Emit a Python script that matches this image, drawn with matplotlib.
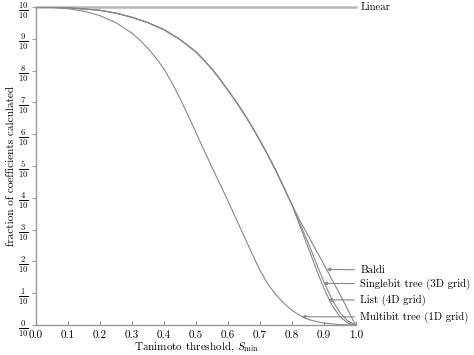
import numpy as np
import matplotlib
matplotlib.use('Agg')
import matplotlib.pyplot as plt

plt.rcParams['font.family'] = 'serif'
plt.rcParams['font.serif'] = ['cmr10', 'DejaVu Serif']
plt.rcParams['mathtext.fontset'] = 'cm'
plt.rcParams['axes.formatter.use_mathtext'] = True

# Data
x_multibit = [0, 0.05, 0.1, 0.15, 0.2, 0.25, 0.3, 0.325, 0.35, 0.375, 0.4, 0.425,
              0.45, 0.475, 0.5, 0.525, 0.55, 0.575, 0.6, 0.625, 0.65, 0.675, 0.7,
              0.725, 0.75, 0.775, 0.8, 0.825, 0.85, 0.875, 0.9, 0.95, 1.0]
y_multibit = [1.0, 0.999, 0.995, 0.987, 0.973, 0.951, 0.918, 0.896, 0.87, 0.84,
              0.805, 0.762, 0.713, 0.66, 0.605, 0.55, 0.496, 0.443, 0.39, 0.335,
              0.28, 0.225, 0.172, 0.128, 0.095, 0.068, 0.046, 0.03, 0.018, 0.011,
              0.006, 0.001, 0.0]

x_common = [0, 0.1, 0.2, 0.25, 0.3, 0.35, 0.4, 0.45, 0.5, 0.525, 0.55, 0.575,
            0.6, 0.625, 0.65, 0.675, 0.7, 0.725, 0.75, 0.775, 0.8]
y_common = [1.0, 0.998, 0.99, 0.981, 0.968, 0.951, 0.929, 0.898, 0.859, 0.833,
            0.805, 0.773, 0.738, 0.703, 0.665, 0.624, 0.58, 0.534, 0.485, 0.432, 0.378]

x_baldi_tail = [0.825, 0.85, 0.875, 0.9, 0.925, 0.95, 0.97, 0.99, 1.0]
y_baldi_tail = [0.328, 0.282, 0.236, 0.19, 0.143, 0.096, 0.057, 0.016, 0.0]

x_single_tail = [0.825, 0.85, 0.875, 0.9, 0.925, 0.95, 0.975, 1.0]
y_single_tail = [0.318, 0.26, 0.197, 0.135, 0.08, 0.039, 0.012, 0.0]

x_list_tail = [0.825, 0.85, 0.875, 0.9, 0.925, 0.95, 0.975, 1.0]
y_list_tail = [0.311, 0.245, 0.178, 0.115, 0.062, 0.026, 0.006, 0.0]

labels = ['Baldi', 'Singlebit tree (3D grid)', 'List (4D grid)', 'Multibit tree (1D grid)']
label_y = [0.173, 0.129, 0.079, 0.025]
arrow_x = [0.908, 0.898, 0.913, 0.83]
arrow_y = [0.175, 0.131, 0.079, 0.026]

fig = plt.figure(figsize=(4.74, 3.55), dpi=100)
ax = fig.add_axes([0.076, 0.0845, 0.675, 0.8955])

gray = '#888888'
ax.plot([0, 1], [1, 1], color='#b8b8b8', lw=1.8, clip_on=False)
ax.plot(x_multibit, y_multibit, color=gray, lw=0.8)
ax.plot(x_common + x_baldi_tail, y_common + y_baldi_tail, color=gray, lw=0.8)
ax.plot(x_common + x_single_tail, y_common + y_single_tail, color=gray, lw=0.8)
ax.plot(x_common + x_list_tail, y_common + y_list_tail, color=gray, lw=0.8)

ax.text(1.013, 1.0, 'Linear', fontsize=7.8, va='center', ha='left')
for lab, ly, axx, ayy in zip(labels, label_y, arrow_x, arrow_y):
    ax.annotate(lab, xy=(axx, ayy), xytext=(1.013, ly), fontsize=7.8,
                va='center', ha='left', annotation_clip=False,
                arrowprops=dict(arrowstyle='-|>', color=gray, lw=0.8,
                                mutation_scale=5, shrinkA=2, shrinkB=0))

ax.set_xlim(0, 1)
ax.set_ylim(0, 1)
ax.set_xticks(np.arange(0, 1.01, 0.1))
ax.set_xticklabels(['%.1f' % v for v in np.arange(0, 1.01, 0.1)], fontsize=8)
ax.set_yticks(np.arange(0, 1.01, 0.1))
ax.set_yticklabels([r'$\frac{%d}{10}$' % i for i in range(11)], fontsize=9)

for s in ['top', 'right']:
    ax.spines[s].set_visible(False)
for s in ['left', 'bottom']:
    ax.spines[s].set_color('#999999')
    ax.spines[s].set_linewidth(1.0)
ax.tick_params(axis='x', direction='in', length=3, color='#999999', pad=4)
ax.tick_params(axis='y', direction='out', length=3, color='#999999', pad=2)

ax.set_xlabel(r'Tanimoto threshold, $S_{\mathrm{min}}$', fontsize=8, labelpad=0)
ax.set_ylabel('fraction of coefficients calculated', fontsize=8, labelpad=2)

fig.savefig('out.png', dpi=100)
